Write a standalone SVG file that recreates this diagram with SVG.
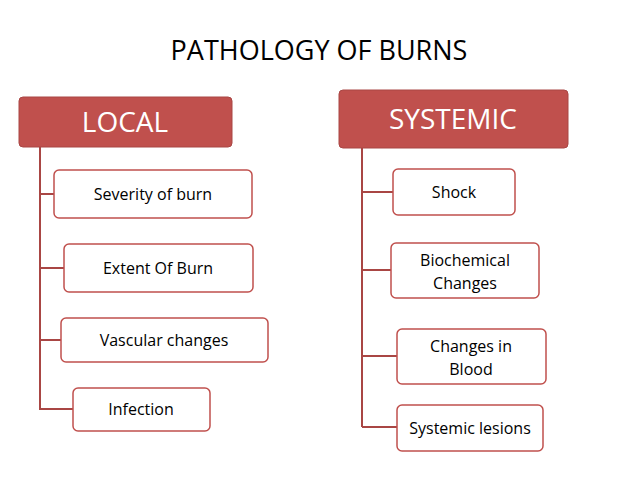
<svg xmlns="http://www.w3.org/2000/svg" width="638" height="479" viewBox="0 0 638 479">
<style>
text{font-family:"Open Sans","Liberation Sans",sans-serif;text-anchor:middle}
.h{fill:#c0504d;stroke:#a94644;stroke-width:1}
.b{fill:#fff;stroke:#c0504d;stroke-width:1.5}
.ht{fill:#fff;font-size:28px}
.bt{fill:#000;font-size:16px}
.c{stroke:#a94644;stroke-width:2;fill:none}
</style>
<rect width="638" height="479" fill="#fff"/>
<text x="319" y="60" style="font-size:27px;fill:#000">PATHOLOGY OF BURNS</text>
<g id="connectors">
<path class="c" d="M40 147V410M40 194H54M40 268H64M40 340H61M40 409H73"/>
<path class="c" d="M362 148V427M362 192H393M362 270H391M362 356H397M362 427H397"/>
</g>
<g id="local"><rect class="h" x="19" y="97" width="213" height="50" rx="4"/><text class="ht" x="125" y="132">LOCAL</text></g>
<g id="severity"><rect class="b" x="54" y="170" width="198" height="48" rx="5"/><text class="bt" x="153" y="200">Severity of burn</text></g>
<g id="extent"><rect class="b" x="64" y="244" width="189" height="48" rx="5"/><text class="bt" x="158" y="274">Extent Of Burn</text></g>
<g id="vascular"><rect class="b" x="61" y="318" width="207" height="44" rx="5"/><text class="bt" x="164" y="346">Vascular changes</text></g>
<g id="infection"><rect class="b" x="73" y="388" width="137" height="43" rx="5"/><text class="bt" x="141" y="415">Infection</text></g>
<g id="systemic"><rect class="h" x="339" y="90" width="229" height="58" rx="4"/><text class="ht" x="453" y="129">SYSTEMIC</text></g>
<g id="shock"><rect class="b" x="393" y="169" width="122" height="46" rx="5"/><text class="bt" x="454" y="198">Shock</text></g>
<g id="biochemical"><rect class="b" x="391" y="243" width="148" height="55" rx="5"/><text class="bt" x="465" y="266">Biochemical</text><text class="bt" x="465" y="289">Changes</text></g>
<g id="blood"><rect class="b" x="397" y="329" width="149" height="55" rx="5"/><text class="bt" x="471" y="352">Changes in</text><text class="bt" x="471" y="375">Blood</text></g>
<g id="lesions"><rect class="b" x="397" y="405" width="146" height="46" rx="5"/><text class="bt" x="470" y="434">Systemic lesions</text></g>
</svg>
